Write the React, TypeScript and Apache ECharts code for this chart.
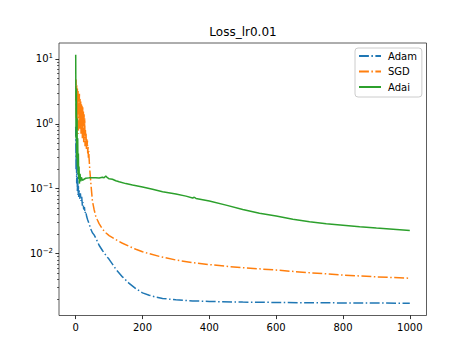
import React, { useEffect, useRef } from "react";
import * as echarts from "echarts";

const FONT = "DejaVu Sans";

const titleText = "Loss_lr0.01";
const seriesNames = ["Adam", "SGD", "Adai"];
const colors = ["#1f77b4", "#ff7f0e", "#2ca02c"];

const xTicks = [0, 200, 400, 600, 800, 1000];
const yTicks = [0.01, 0.1, 1, 10];
const yMinorTicks = [
  0.002, 0.003, 0.004, 0.005, 0.006, 0.007, 0.008, 0.009,
  0.02, 0.03, 0.04, 0.05, 0.06, 0.07, 0.08, 0.09,
  0.2, 0.3, 0.4, 0.5, 0.6, 0.7, 0.8, 0.9,
  2, 3, 4, 5, 6, 7, 8, 9,
];

const adamSteps = [0, 1, 2, 3, 4, 5, 6, 7, 8, 9, 10, 12, 14, 16, 18, 20, 22, 24, 26, 28, 30, 33, 36, 40, 45, 50, 55, 60, 70, 80, 90, 100, 110, 120, 140, 160, 180, 200, 220, 240, 260, 300, 350, 400, 500, 600, 700, 800, 900, 1000];
const adamLoss = [0.9, 0.2, 0.6, 0.12, 0.3, 0.09, 0.15, 0.08, 0.11, 0.075, 0.095, 0.07, 0.085, 0.065, 0.075, 0.055, 0.062, 0.048, 0.052, 0.042, 0.045, 0.037, 0.033, 0.029, 0.024, 0.021, 0.0195, 0.0175, 0.0135, 0.0112, 0.0095, 0.0082, 0.0069, 0.0058, 0.0044, 0.0035, 0.0029, 0.0025, 0.0023, 0.00215, 0.00205, 0.00195, 0.00188, 0.00184, 0.0018, 0.00178, 0.00176, 0.00175, 0.00174, 0.00173];

const sgdSteps = [0, 1, 2, 3, 4, 5, 6, 7, 8, 9, 10, 11, 12, 13, 14, 15, 16, 17, 18, 19, 20, 21, 22, 23, 24, 25, 26, 27, 28, 29, 30, 31, 32, 33, 34, 35, 36, 37, 38, 39, 40, 42, 44, 46, 48, 50, 55, 60, 65, 70, 80, 90, 100, 120, 140, 160, 180, 200, 250, 300, 350, 400, 450, 500, 600, 700, 800, 900, 1000];
const sgdLoss = [2.3, 4.8, 1.2, 4.0, 0.8, 3.5, 1.0, 3.2, 0.7, 2.8, 1.1, 2.9, 0.8, 2.4, 1.3, 2.2, 0.7, 2.0, 1.0, 1.9, 0.6, 1.8, 0.9, 1.6, 0.5, 1.4, 0.7, 1.2, 0.45, 0.8, 0.6, 0.7, 0.4, 0.6, 0.45, 0.55, 0.35, 0.45, 0.3, 0.38, 0.3, 0.2, 0.15, 0.11, 0.085, 0.065, 0.048, 0.038, 0.033, 0.029, 0.024, 0.021, 0.019, 0.0165, 0.0145, 0.013, 0.0117, 0.0107, 0.0091, 0.008, 0.0073, 0.0068, 0.0064, 0.0061, 0.0056, 0.0051, 0.0047, 0.0044, 0.0042];

const adaiSteps = [0, 1, 2, 3, 4, 5, 6, 7, 8, 9, 10, 11, 13, 15, 17, 20, 25, 30, 40, 50, 60, 70, 80, 85, 90, 95, 100, 110, 120, 130, 150, 170, 200, 230, 260, 300, 330, 350, 355, 360, 400, 450, 500, 550, 600, 650, 700, 750, 800, 850, 900, 950, 1000];
const adaiLoss = [11.5, 0.6, 3.5, 0.3, 1.2, 0.22, 0.6, 0.17, 0.35, 0.14, 0.22, 0.12, 0.17, 0.13, 0.15, 0.135, 0.14, 0.145, 0.147, 0.148, 0.147, 0.146, 0.15, 0.148, 0.157, 0.148, 0.142, 0.14, 0.133, 0.128, 0.12, 0.114, 0.106, 0.098, 0.09, 0.083, 0.077, 0.072, 0.074, 0.071, 0.065, 0.056, 0.048, 0.042, 0.038, 0.034, 0.031, 0.029, 0.0275, 0.026, 0.0248, 0.0238, 0.0228];

const stepsList = [adamSteps, sgdSteps, adaiSteps];
const lossList = [adamLoss, sgdLoss, adaiLoss];
const dashDot = [9.9, 2.5, 1.5, 2.5];

export default function App() {
  const ref = useRef<HTMLDivElement>(null);
  useEffect(() => {
    if (!ref.current) return;
    const chart = echarts.init(ref.current, null, { renderer: "svg" });
    const supText = (v: number) => {
      const e = Math.round(Math.log10(v));
      const s = e < 0 ? "\u2212" + String(-e) : String(e);
      return "{b|10}{s|" + s + "}";
    };
    const tickLine = { color: "#000", width: 0.8 };
    chart.setOption({
      animation: false,
      backgroundColor: "#fff",
      textStyle: { fontFamily: FONT },
      title: {
        text: titleText,
        left: 243,
        textAlign: "center",
        top: 26,
        padding: 0,
        textStyle: { fontFamily: FONT, fontSize: 12, fontWeight: "normal", color: "#000" },
      },
      legend: {
        orient: "vertical",
        left: 355,
        top: 48,
        itemWidth: 22,
        itemHeight: 10,
        itemGap: 5.5,
        padding: [3, 5, 5, 3],
        backgroundColor: "#fff",
        borderColor: "#cccccc",
        borderWidth: 1,
        borderRadius: 3,
        itemStyle: { opacity: 0 },
        textStyle: { fontFamily: FONT, fontSize: 10, color: "#000", padding: [0, 0, 0, 2] },
        data: seriesNames,
      },
      grid: {
        left: 59,
        top: 43,
        width: 367.5,
        height: 272.5,
        show: true,
        borderColor: "#333",
        borderWidth: 0.8,
        backgroundColor: "transparent",
      },
      xAxis: {
        type: "value",
        min: -50,
        max: 1050,
        axisLine: { show: false, onZero: false },
        splitLine: { show: false },
        axisTick: { show: true, length: 3.6, customValues: xTicks, lineStyle: tickLine },
        axisLabel: {
          customValues: xTicks,
          formatter: (v: number) => String(v),
          fontFamily: FONT,
          fontSize: 10,
          color: "#000",
          margin: 7,
        },
      },
      yAxis: [
        {
          type: "log",
          logBase: 10,
          min: 0.00112,
          max: 17.5,
          axisLine: { show: false, onZero: false },
          splitLine: { show: false },
          axisTick: { show: true, length: 3.6, customValues: yTicks, lineStyle: tickLine },
          axisLabel: {
            customValues: yTicks,
            margin: 6,
            formatter: supText,
            rich: {
              b: { fontFamily: FONT, fontSize: 10, color: "#000", lineHeight: 12 },
              s: { fontFamily: FONT, fontSize: 7, color: "#000", lineHeight: 8, verticalAlign: "top" },
            },
          },
        },
        {
          type: "log",
          logBase: 10,
          min: 0.00112,
          max: 17.5,
          position: "left",
          offset: 0,
          axisLine: { show: false, onZero: false },
          splitLine: { show: false },
          axisTick: { show: true, length: 2, customValues: yMinorTicks, lineStyle: { color: "#000", width: 0.6 } },
          axisLabel: { show: false },
        },
      ],
      series: seriesNames.map((name, i) => ({
        name,
        type: "line",
        yAxisIndex: 0,
        symbol: "none",
        showSymbol: false,
        color: colors[i],
        lineStyle: { color: colors[i], width: 1.5, type: i < 2 ? dashDot : "solid" },
        data: stepsList[i].map((x, k) => [x, lossList[i][k]]),
      })),
    });
    return () => chart.dispose();
  }, []);
  return <div ref={ref} style={{ position: "fixed", left: 0, top: 0, width: 474, height: 355 }} />;
}
